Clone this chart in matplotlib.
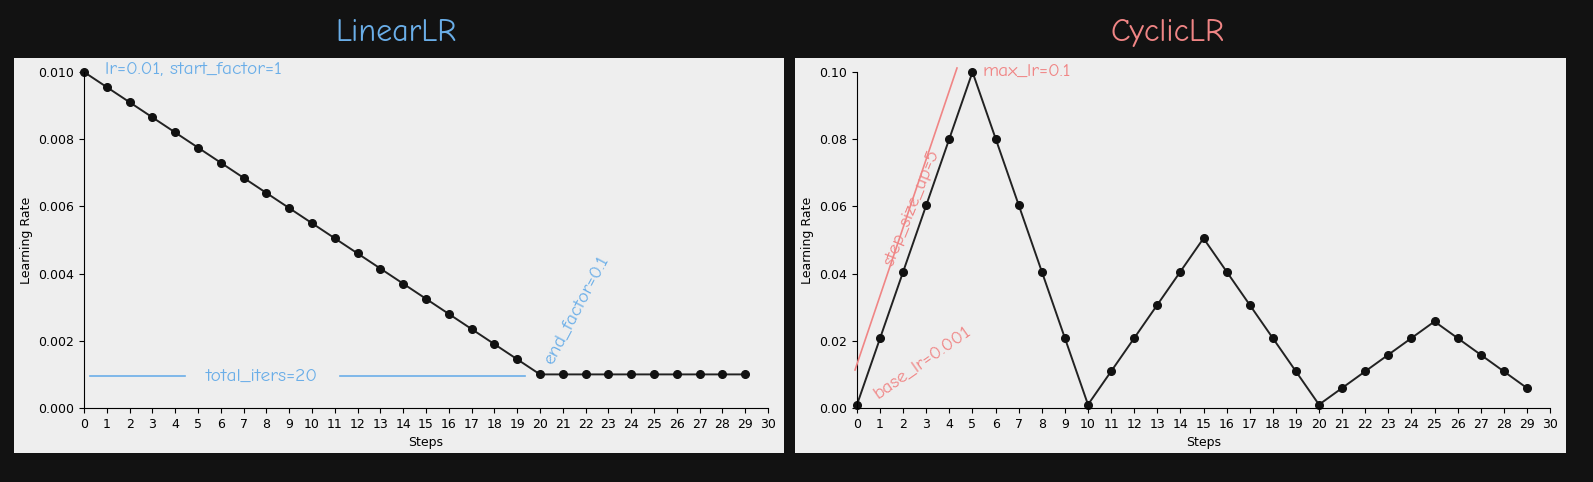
import numpy as np
import matplotlib.pyplot as plt
from matplotlib.lines import Line2D

steps = list(range(30))
linear_lr = [0.01, 0.00955, 0.0091, 0.00865, 0.0082, 0.00775, 0.0073, 0.00685, 0.0064, 0.00595,
             0.0055, 0.00505, 0.0046, 0.00415, 0.0037, 0.00325, 0.0028, 0.00235, 0.0019, 0.00145,
             0.001, 0.001, 0.001, 0.001, 0.001, 0.001, 0.001, 0.001, 0.001, 0.001]
cyclic_lr = [0.001, 0.0208, 0.0406, 0.0604, 0.0802, 0.1, 0.0802, 0.0604, 0.0406, 0.0208,
             0.001, 0.0109, 0.0208, 0.0307, 0.0406, 0.0505, 0.0406, 0.0307, 0.0208, 0.0109,
             0.001, 0.00595, 0.0109, 0.01585, 0.0208, 0.02575, 0.0208, 0.01585, 0.0109, 0.00595]

W, H = 1593, 482
BG = '#121212'
PANEL = '#eeeeee'
BLUE = '#6aaee8'
RED = '#f08585'
HAND = ['Comic Neue', 'Lato', 'DejaVu Sans']

fig = plt.figure(figsize=(W / 100, H / 100), dpi=100, facecolor=BG)

def fx(x): return x / W
def fy(y): return 1 - y / H

# panel backgrounds as empty axes underneath
for x0, x1 in [(14, 784), (795, 1566)]:
    bg = fig.add_axes([fx(x0), fy(453), fx(x1 - x0), (453 - 58) / H], zorder=0)
    bg.set_facecolor(PANEL)
    bg.set_xticks([])
    bg.set_yticks([])
    for s in bg.spines.values():
        s.set_visible(False)

def make_ax(x0, x1, y, ymax, yticks, fmt):
    ax = fig.add_axes([fx(x0), fy(408), fx(x1 - x0), (408 - 72) / H], zorder=1)
    ax.set_facecolor(PANEL)
    ax.plot(steps, y, color='#222222', lw=1.4, marker='o', ms=5.5, mfc='#111111', mec='#111111',
            clip_on=False)
    ax.set_xlim(0, 30)
    ax.set_ylim(0, ymax)
    ax.set_xticks(range(31))
    ax.set_yticks(yticks)
    ax.set_yticklabels([fmt % v for v in yticks])
    ax.tick_params(labelsize=9)
    ax.spines['top'].set_visible(False)
    ax.spines['right'].set_visible(False)
    ax.set_xlabel('Steps', fontsize=9)
    ax.set_ylabel('Learning Rate', fontsize=9)
    return ax

make_ax(84, 768, linear_lr, 0.01, np.linspace(0, 0.01, 6), '%.3f')
make_ax(857, 1550, cyclic_lr, 0.1, np.linspace(0, 0.1, 6), '%.2f')

fig.text(fx(396), fy(33), 'LinearLR', color=BLUE, fontsize=23, family=HAND, ha='center', va='center')
fig.text(fx(1168), fy(33), 'CyclicLR', color=RED, fontsize=23, family=HAND, ha='center', va='center')

# LinearLR annotations
fig.text(fx(105), fy(70), 'lr=0.01, start_factor=1', color=BLUE, fontsize=14, family=HAND,
         va='center', zorder=5)
fig.text(fx(262), fy(376), 'total_iters=20', color=BLUE, fontsize=14, family=HAND,
         ha='center', va='center', zorder=5)
for xa, xb in [(90, 185), (340, 525)]:
    fig.add_artist(Line2D([fx(xa), fx(xb)], [fy(376), fy(376)], color=BLUE, lw=1.2, zorder=5))
fig.text(fx(576), fy(310), 'end_factor=0.1', color=BLUE, fontsize=14, family=HAND,
         rotation=62, ha='center', va='center', zorder=5)

# CyclicLR annotations
fig.add_artist(Line2D([fx(855), fx(957)], [fy(370), fy(68)], color=RED, lw=1.2, zorder=5))
fig.text(fx(912), fy(208), 'step_size_up=5', color=RED, fontsize=14, family=HAND,
         rotation=68, ha='center', va='center', zorder=5)
fig.text(fx(982), fy(71), 'max_lr=0.1', color=RED, fontsize=14, family=HAND, va='center', zorder=5)
fig.text(fx(922), fy(362), 'base_lr=0.001', color=RED, fontsize=14, family=HAND,
         rotation=35, ha='center', va='center', zorder=5)

fig.savefig('out.png', dpi=100, facecolor=BG)
